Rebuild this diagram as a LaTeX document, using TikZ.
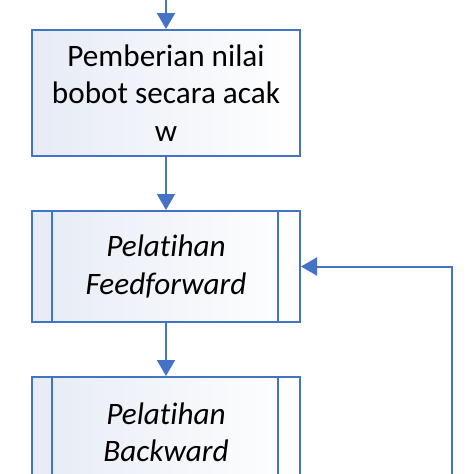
\documentclass[tikz,border=0pt]{standalone}
\usepackage{fontspec}
\setmainfont[Ligatures=NoCommon]{Carlito}
\usetikzlibrary{arrows.meta}
\definecolor{bl}{RGB}{68,114,196}
\definecolor{fillL}{RGB}{230,235,245}
\begin{document}
\begin{tikzpicture}[x=1pt,y=-1pt,
  box/.style={draw=bl,line width=2pt,left color=fillL,right color=white,minimum width=268pt,align=center,inner sep=0pt,font=\fontsize{31.2}{37.5}\selectfont},
  arr/.style={draw=bl,line width=2pt,-{Triangle[width=18pt,length=16pt]}}]
\clip (0,0) rectangle (474,474);
\useasboundingbox (0,0) rectangle (474,474);
\coordinate (top) at (166,-2);
\node[box,minimum height=126pt] (b1) at (166,93) {Pemberian nilai\\bobot secara acak\\w};
\node[box,minimum height=111pt] (b2) at (166,266.5) {\itshape Pelatihan\\\itshape Feedforward};
\node[box,minimum height=111pt] (b3) at (166,432.5) {\itshape Pelatihan\\\itshape Backward};
\foreach \b in {b2,b3}{
  \draw[bl,line width=2pt] ([xshift=21pt]\b.north west) -- ([xshift=21pt]\b.south west);
  \draw[bl,line width=2pt] ([xshift=-23pt]\b.north east) -- ([xshift=-23pt]\b.south east);
}
\coordinate (fb) at (452,490);
\draw[arr] (top) -- (b1.north);
\draw[arr] (b1.south) -- (b2.north);
\draw[arr] (b2.south) -- (b3.north);
\draw[arr] (fb) |- (b2.east);
\end{tikzpicture}
\end{document}
